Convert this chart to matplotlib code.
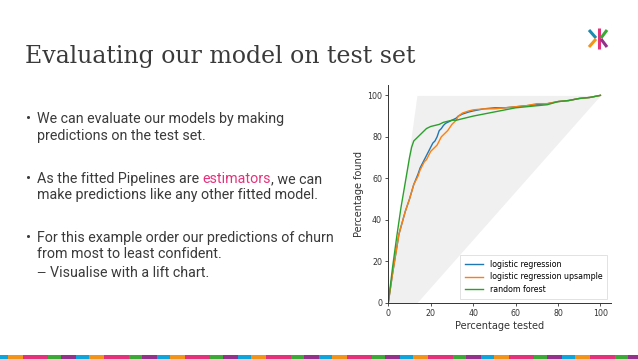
import matplotlib
matplotlib.use("Agg")
import matplotlib.pyplot as plt
from matplotlib.patches import Rectangle
from matplotlib.lines import Line2D

# churn rate (perfect model reaches 100% found at this % tested)
perfect_x = [0, 13.5, 100]
perfect_y = [0, 100, 100]

lr_x = [0, 2, 5, 8, 10, 12, 14, 15, 16, 17, 18, 19, 20, 21, 22, 23, 24, 25, 26, 27, 28, 30, 32, 33, 35, 38, 40, 45, 50, 55, 60, 65, 70, 75, 80, 85, 90, 95, 100]
lr_y = [0, 14, 33, 44, 50, 57, 62, 65, 67, 69, 71, 73, 75, 77, 78, 80, 83, 84, 85.5, 86.5, 87, 88, 89, 90, 91, 92, 92.5, 93.5, 94, 94, 94.5, 95, 95.5, 96, 97, 97.5, 98.5, 99, 100]

lr_up_x = [0, 2, 5, 8, 10, 12, 14, 15, 16, 17, 18, 19, 20, 21, 22, 23, 24, 25, 26, 27, 28, 30, 32, 33, 35, 38, 40, 45, 50, 55, 60, 65, 70, 75, 80, 85, 90, 95, 100]
lr_up_y = [0, 14, 33, 44, 50, 57, 61, 64, 66, 68, 69, 71, 73, 74, 75, 76, 78, 80, 81, 82, 83, 86, 88, 90, 91.5, 92.5, 93, 93.5, 93.5, 94, 94.5, 95, 96, 96, 97, 97.5, 98.5, 99, 100]

rf_x = [0, 2, 4, 6, 8, 10, 11, 12, 13, 14, 16, 18, 20, 22, 24, 26, 28, 30, 32, 34, 36, 38, 40, 45, 50, 55, 60, 65, 70, 75, 80, 85, 90, 95, 100]
rf_y = [0, 17, 32, 46, 58, 70, 75, 78, 79, 80, 82, 84, 85, 85.5, 86, 87, 87.5, 88, 88, 88.5, 89, 89.5, 90, 91, 92, 93, 94, 94.5, 95, 95.5, 97, 97.5, 98.5, 99, 100]

x_ticks = [0, 20, 40, 60, 80, 100]
y_ticks = [0, 20, 40, 60, 80, 100]

stripe_colors = ["#0ea5dc", "#f39318", "#e5317a", "#3aa935", "#94318a"]
stripe_widths = [13, 15, 25, 13, 15]

text_color = "#3a3a3a"
pink = "#e5317a"

fig = plt.figure(figsize=(6.38, 3.59), dpi=100)
W, H = 638.0, 359.0

# slide title
fig.text(25 / W, 1 - 63 / H, "Evaluating our model on test set", fontsize=17,
         family="DejaVu Serif", color="#3a3a3a", va="baseline")

# bullets
body = dict(fontsize=10.3, family="Roboto", color=text_color, va="baseline")
lines = [
    (37, 123, "We can evaluate our models by making"),
    (37, 140, "predictions on the test set."),
    (37, 199, "make predictions like any other fitted model."),
    (37, 242, "For this example order our predictions of churn"),
    (37, 258, "from most to least confident."),
    (50, 277, "Visualise with a lift chart."),
]
for x, y, s in lines:
    fig.text(x / W, 1 - y / H, s, **body)
for y in [123, 183, 242]:
    fig.text(26 / W, 1 - y / H, "•", **{**body, "fontsize": 11})
fig.text(36 / W, 1 - 277 / H, "—", **{**body, "fontsize": 8.5})

t1 = fig.text(37 / W, 1 - 183 / H, "As the fitted Pipelines are ", **body)
fig.canvas.draw()
bb = t1.get_window_extent()
t2 = fig.text(bb.x1 / W, 1 - 183 / H, "estimators", **{**body, "color": pink})
bb2 = t2.get_window_extent()
fig.text(bb2.x1 / W, 1 - 183 / H, ", we can", **body)

# logo
logo = [((589, 30), (596, 38), "#1a8cb0"), ((589, 47), (596, 39), "#f39318"),
        ((598.5, 28), (598.5, 49), "#e5317a"), ((601, 38), (607, 30), "#3aa935"),
        ((601, 39), (607, 47), "#94318a")]
for (x0, y0), (x1, y1), c in logo:
    fig.add_artist(Line2D([x0 / W, x1 / W], [1 - y0 / H, 1 - y1 / H], color=c, lw=2.2,
                          solid_capstyle="butt"))

# bottom stripe
x = -5
i = 0
while x < W:
    w = stripe_widths[i % 5]
    fig.add_artist(Rectangle((x / W, 0), w / W, 4 / H, color=stripe_colors[i % 5],
                             transform=fig.transFigure, lw=0))
    x += w
    i += 1

# lift chart
ax = fig.add_axes([388.3 / W, 1 - 302.7 / H, (611 - 388.3) / W, (302.7 - 85) / H])
ax.fill_between(perfect_x, [0, 0, 100], perfect_y, color="#f0f0f0", lw=0)
ax.plot(lr_x, lr_y, color="#1f77b4", lw=1.0, label="logistic regression")
ax.plot(lr_up_x, lr_up_y, color="#ff7f0e", lw=1.0, label="logistic regression upsample")
ax.plot(rf_x, rf_y, color="#2ca02c", lw=1.0, label="random forest")
ax.set_xlim(0, 105)
ax.set_ylim(0, 105)
ax.set_xticks(x_ticks)
ax.set_yticks(y_ticks)
ax.tick_params(labelsize=5.7, length=2.5, width=0.6, colors="#333333", pad=2)
for s in ["top", "right"]:
    ax.spines[s].set_visible(False)
for s in ["left", "bottom"]:
    ax.spines[s].set_linewidth(0.7)
    ax.spines[s].set_color("#333333")
ax.set_xlabel("Percentage tested", fontsize=7, color="#333333", labelpad=2)
ax.set_ylabel("Percentage found", fontsize=7, color="#333333", labelpad=2)
leg = ax.legend(loc="lower right", fontsize=5.7, frameon=True, fancybox=False,
                handlelength=2.3, borderpad=0.6, labelspacing=0.45)
leg.get_frame().set_linewidth(0.5)
leg.get_frame().set_edgecolor("#cccccc")

fig.savefig("out.png", dpi=100)
